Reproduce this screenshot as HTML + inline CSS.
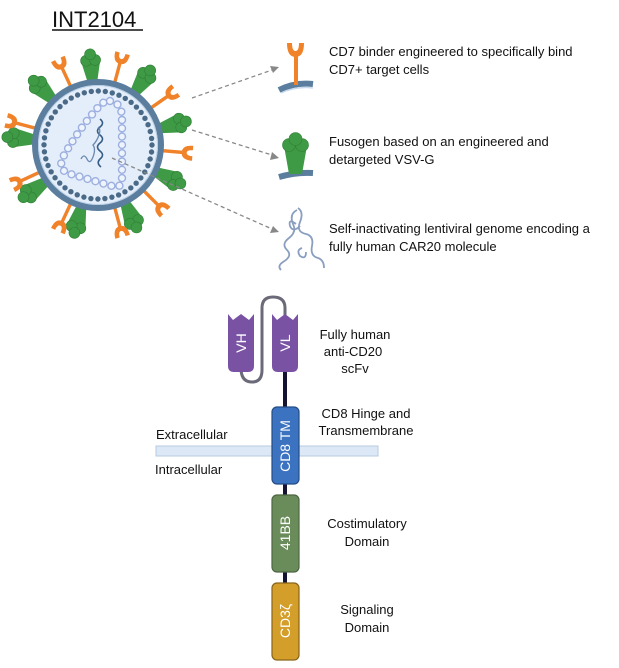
<!DOCTYPE html>
<html><head><meta charset="utf-8"><style>
html,body{margin:0;padding:0;background:#fff;}
svg{display:block;font-family:"Liberation Sans",Arial,sans-serif;}
</style></head><body>
<svg width="619" height="668" viewBox="0 0 619 668" xmlns="http://www.w3.org/2000/svg">
<defs>
<g id="orange">
  <line x1="0" y1="2" x2="0" y2="-22" stroke="#f0822a" stroke-width="3.4"/>
  <path d="M-7.5,-31 Q-7.5,-20 0,-20 Q7.5,-20 7.5,-31 L3,-31 Q3,-25 0,-25 Q-3,-25 -3,-31 Z" fill="#f0822a"/>
</g>
<g id="green">
  <path d="M-4.5,2 L4.5,2 L9.5,-20 L-9.5,-20 Z" fill="#3f9a45"/>
  <circle cx="-4.5" cy="-21" r="5.5" fill="#3f9a45" stroke="#2f7f36" stroke-width="0.6"/>
  <circle cx="4.5" cy="-21" r="5.5" fill="#3f9a45" stroke="#2f7f36" stroke-width="0.6"/>
  <circle cx="0" cy="-27" r="5.5" fill="#3f9a45" stroke="#2f7f36" stroke-width="0.6"/>
</g>
</defs>
<text x="52" y="27" font-size="22" fill="#111">INT2104</text>
<line x1="52" y1="30" x2="143" y2="30" stroke="#111" stroke-width="1.5"/>

<g transform="translate(98,145)">
  <g transform="rotate(-5)"><use href="#green" y="-64"/></g>
  <g transform="rotate(35)"><use href="#green" y="-64"/></g>
  <g transform="rotate(75)"><use href="#green" y="-64"/></g>
  <g transform="rotate(115)"><use href="#green" y="-64"/></g>
  <g transform="rotate(155)"><use href="#green" y="-64"/></g>
  <g transform="rotate(195)"><use href="#green" y="-64"/></g>
  <g transform="rotate(235)"><use href="#green" y="-64"/></g>
  <g transform="rotate(275)"><use href="#green" y="-64"/></g>
  <g transform="rotate(315)"><use href="#green" y="-64"/></g>
  <g transform="rotate(15)"><use href="#orange" y="-64"/></g>
  <g transform="rotate(55)"><use href="#orange" y="-64"/></g>
  <g transform="rotate(95)"><use href="#orange" y="-64"/></g>
  <g transform="rotate(135)"><use href="#orange" y="-64"/></g>
  <g transform="rotate(165)"><use href="#orange" y="-64"/></g>
  <g transform="rotate(205)"><use href="#orange" y="-64"/></g>
  <g transform="rotate(245)"><use href="#orange" y="-64"/></g>
  <g transform="rotate(285)"><use href="#orange" y="-64"/></g>
  <g transform="rotate(-25)"><use href="#orange" y="-64"/></g>
</g>
<circle cx="98" cy="145" r="63" fill="#e3eefa" stroke="#5b7e9e" stroke-width="6"/>
<circle cx="98" cy="145" r="59.5" fill="none" stroke="#b9cfe6" stroke-width="1"/>
<circle cx="98" cy="145" r="54" fill="none" stroke="#4a6a88" stroke-width="5.4" stroke-dasharray="0 7.07" stroke-linecap="round"/>
<path d="M110,101 Q122,103 122,118 L122,180 Q121,189 112,186 L67,173 Q58,168 63,157 Q80,127 102,103 Z" fill="none" stroke="#9dafe0" stroke-width="8.4" stroke-dasharray="0 8.3" stroke-linecap="round"/>
<path d="M110,101 Q122,103 122,118 L122,180 Q121,189 112,186 L67,173 Q58,168 63,157 Q80,127 102,103 Z" fill="none" stroke="#eef4fc" stroke-width="5.6" stroke-dasharray="0 8.3" stroke-linecap="round"/>
<path d="M100,119 q5,4 0,8 q-5,4 0,8 q5,4 0,8 q-5,4 0,8 q5,4 0,8 q-4,4 1,8" fill="none" stroke="#345c86" stroke-width="1.6"/>
<path d="M81,159 q3,-6 6,0 q3,6 6,-2 q3,-8 0,-12 q4,-4 6,-10 q2,-6 -1,-8" fill="none" stroke="#6a88b0" stroke-width="1.3"/>

<g stroke="#888" stroke-width="1.3" stroke-dasharray="4 3" fill="none">
  <line x1="192" y1="98" x2="272" y2="70"/>
  <line x1="192" y1="130" x2="272" y2="155"/>
  <line x1="112" y1="158" x2="272" y2="229"/>
</g>
<g fill="#888">
  <path d="M279,67 L270,66 L273,73 Z"/>
  <path d="M279,158 L272,152 L270,160 Z"/>
  <path d="M279,232 L273,226 L270,233 Z"/>
</g>

<path d="M279,90 Q295,82 313,84" fill="none" stroke="#5b7e9e" stroke-width="6"/>
<path d="M281,93 Q296,86 313,88" fill="none" stroke="#c8dbee" stroke-width="1.5"/>
<rect x="294" y="52" width="4" height="33" fill="#f0822a"/>
<path d="M287,43 Q287,57 295.5,57 Q304,57 304,43 L299,43 Q299,51 295.5,51 Q292,51 292,43 Z" fill="#f0822a"/>
<path d="M279,177 Q296,172 313,173" fill="none" stroke="#5b7e9e" stroke-width="6"/>
<path d="M289,174 L302,174 L307,146 L284,146 Z" fill="#3f9a45"/>
<circle cx="289" cy="145" r="6.5" fill="#3f9a45" stroke="#2f7f36" stroke-width="0.6"/><circle cx="302" cy="145" r="6.5" fill="#3f9a45" stroke="#2f7f36" stroke-width="0.6"/><circle cx="295.5" cy="139" r="6.5" fill="#3f9a45" stroke="#2f7f36" stroke-width="0.6"/>
<path d="M297,210 q-8,4 -4,14 q4,8 -4,14 q-8,6 -2,12 q6,6 -4,12 q-6,4 -2,8 M298,208 q6,4 2,14 q-4,10 6,12 q8,2 6,12 q-2,10 6,12 q6,2 6,10 M296,224 q-8,-6 -6,2 q3,7 10,0 M302,248 q-6,2 -2,8 q6,4 6,-4" fill="none" stroke="#8a9fc0" stroke-width="1.8"/>

<g font-size="13" fill="#111">
<text x="329" y="56">CD7 binder engineered to specifically bind</text>
<text x="329" y="74">CD7+ target cells</text>
<text x="329" y="146">Fusogen based on an engineered and</text>
<text x="329" y="164">detargeted VSV-G</text>
<text x="329" y="233">Self-inactivating lentiviral genome encoding a</text>
<text x="329" y="251">fully human CAR20 molecule</text>
</g>

<rect x="156" y="446" width="222" height="10" fill="#dce8f5" stroke="#b7cbe0" stroke-width="1"/>
<path d="M241,368 Q241,382 252,382 Q262,382 262,370 L262,308 Q262,297 273,297 Q285,297 285,308 L285,318" fill="none" stroke="#6a6a78" stroke-width="3"/>
<line x1="285" y1="366" x2="285" y2="590" stroke="#141432" stroke-width="4"/>
<path d="M228,314 L233,320 L241,314 L249,320 L254,314 L254,366 Q254,372 248,372 L234,372 Q228,372 228,366 Z" fill="#7a52a3"/>
<path d="M272,314 L277,320 L285,314 L293,320 L298,314 L298,366 Q298,372 292,372 L278,372 Q272,372 272,366 Z" fill="#7a52a3"/>
<rect x="272" y="407" width="27" height="77" rx="5" fill="#3b73c0" stroke="#244d88" stroke-width="1.2"/>
<rect x="272" y="495" width="27" height="77" rx="5" fill="#6a8c5a" stroke="#4d6642" stroke-width="1.2"/>
<rect x="272" y="583" width="27" height="77" rx="5" fill="#d39e2a" stroke="#8a6418" stroke-width="1.2"/>
<g font-size="14" fill="#fff" text-anchor="middle">
<text transform="translate(290,343) rotate(-90)">VL</text>
<text transform="translate(246,343) rotate(-90)">VH</text>
<text transform="translate(290,446) rotate(-90)">CD8 TM</text>
<text transform="translate(290,533) rotate(-90)">41BB</text>
<text transform="translate(290,621) rotate(-90)">CD3ζ</text>
</g>
<g font-size="13" fill="#111" text-anchor="middle">
<text x="355" y="339">Fully human</text>
<text x="353" y="356">anti-CD20</text>
<text x="355" y="373">scFv</text>
<text x="366" y="418">CD8 Hinge and</text>
<text x="366" y="435">Transmembrane</text>
<text x="367" y="528">Costimulatory</text>
<text x="367" y="546">Domain</text>
<text x="367" y="614">Signaling</text>
<text x="367" y="632">Domain</text>
</g>
<g font-size="13" fill="#111">
<text x="156" y="439">Extracellular</text>
<text x="155" y="474">Intracellular</text>
</g>
</svg>
</body></html>
